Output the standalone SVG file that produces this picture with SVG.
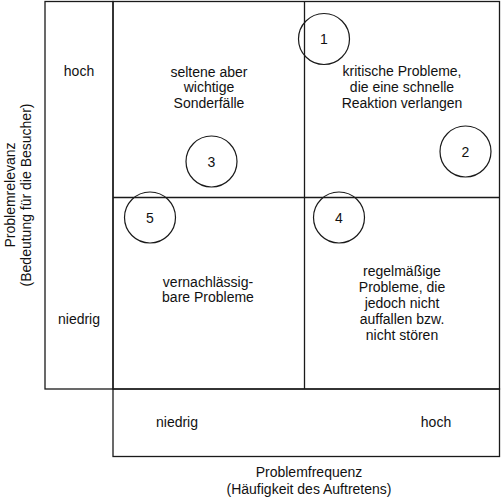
<svg xmlns="http://www.w3.org/2000/svg" width="502" height="499" viewBox="0 0 502 499">
<style>
.box{fill:none;stroke:#1a1a1a;stroke-width:1.3}
.c{fill:none;stroke:#1a1a1a;stroke-width:1.2}
text{font-family:"Liberation Sans",Arial,Helvetica,sans-serif;font-size:14px;fill:#111;text-anchor:middle}
</style>
<rect width="502" height="499" fill="#fff"/>
<g id="frame">
<rect class="box" x="45" y="1.5" width="68" height="387.5"/>
<rect class="box" x="113" y="1.5" width="386.5" height="387.5"/>
<rect class="box" x="113" y="389" width="386.5" height="67.5"/>
<line class="box" x1="304.5" y1="1.5" x2="304.5" y2="389"/>
<line class="box" x1="113" y1="197.5" x2="499.5" y2="197.5"/>
</g>
<g id="y-axis">
<text x="79" y="76">hoch</text>
<text x="79" y="324">niedrig</text>
<text transform="translate(15,195) rotate(-90)" x="0" y="0">Problemrelevanz</text>
<text transform="translate(31,195) rotate(-90)" x="0" y="0">(Bedeutung für die Besucher)</text>
</g>
<g id="x-axis">
<text x="177" y="427">niedrig</text>
<text x="436" y="427">hoch</text>
<text x="309" y="477">Problemfrequenz</text>
<text x="309" y="494">(Häufigkeit des Auftretens)</text>
</g>
<g id="q-top-left">
<text x="209" y="77">seltene aber</text>
<text x="209" y="92">wichtige</text>
<text x="209" y="108">Sonderfälle</text>
</g>
<g id="q-top-right">
<text x="402" y="76">kritische Probleme,</text>
<text x="402" y="92">die eine schnelle</text>
<text x="402" y="108">Reaktion verlangen</text>
</g>
<g id="q-bottom-left">
<text x="208" y="287">vernachlässig-</text>
<text x="208" y="302">bare Probleme</text>
</g>
<g id="q-bottom-right">
<text x="402" y="276">regelmäßige</text>
<text x="402" y="292">Probleme, die</text>
<text x="402" y="308">jedoch nicht</text>
<text x="402" y="324">auffallen bzw.</text>
<text x="402" y="340">nicht stören</text>
</g>
<g id="p1"><circle class="c" cx="324" cy="39" r="25.5"/><text x="324" y="44">1</text></g>
<g id="p2"><circle class="c" cx="465.5" cy="151.5" r="25.5"/><text x="465.5" y="156.5">2</text></g>
<g id="p3"><circle class="c" cx="211.5" cy="161.5" r="25.5"/><text x="211.5" y="166.5">3</text></g>
<g id="p4"><circle class="c" cx="339" cy="217.5" r="25.5"/><text x="339" y="222.5">4</text></g>
<g id="p5"><circle class="c" cx="150" cy="217.5" r="25.5"/><text x="150" y="222.5">5</text></g>
</svg>
